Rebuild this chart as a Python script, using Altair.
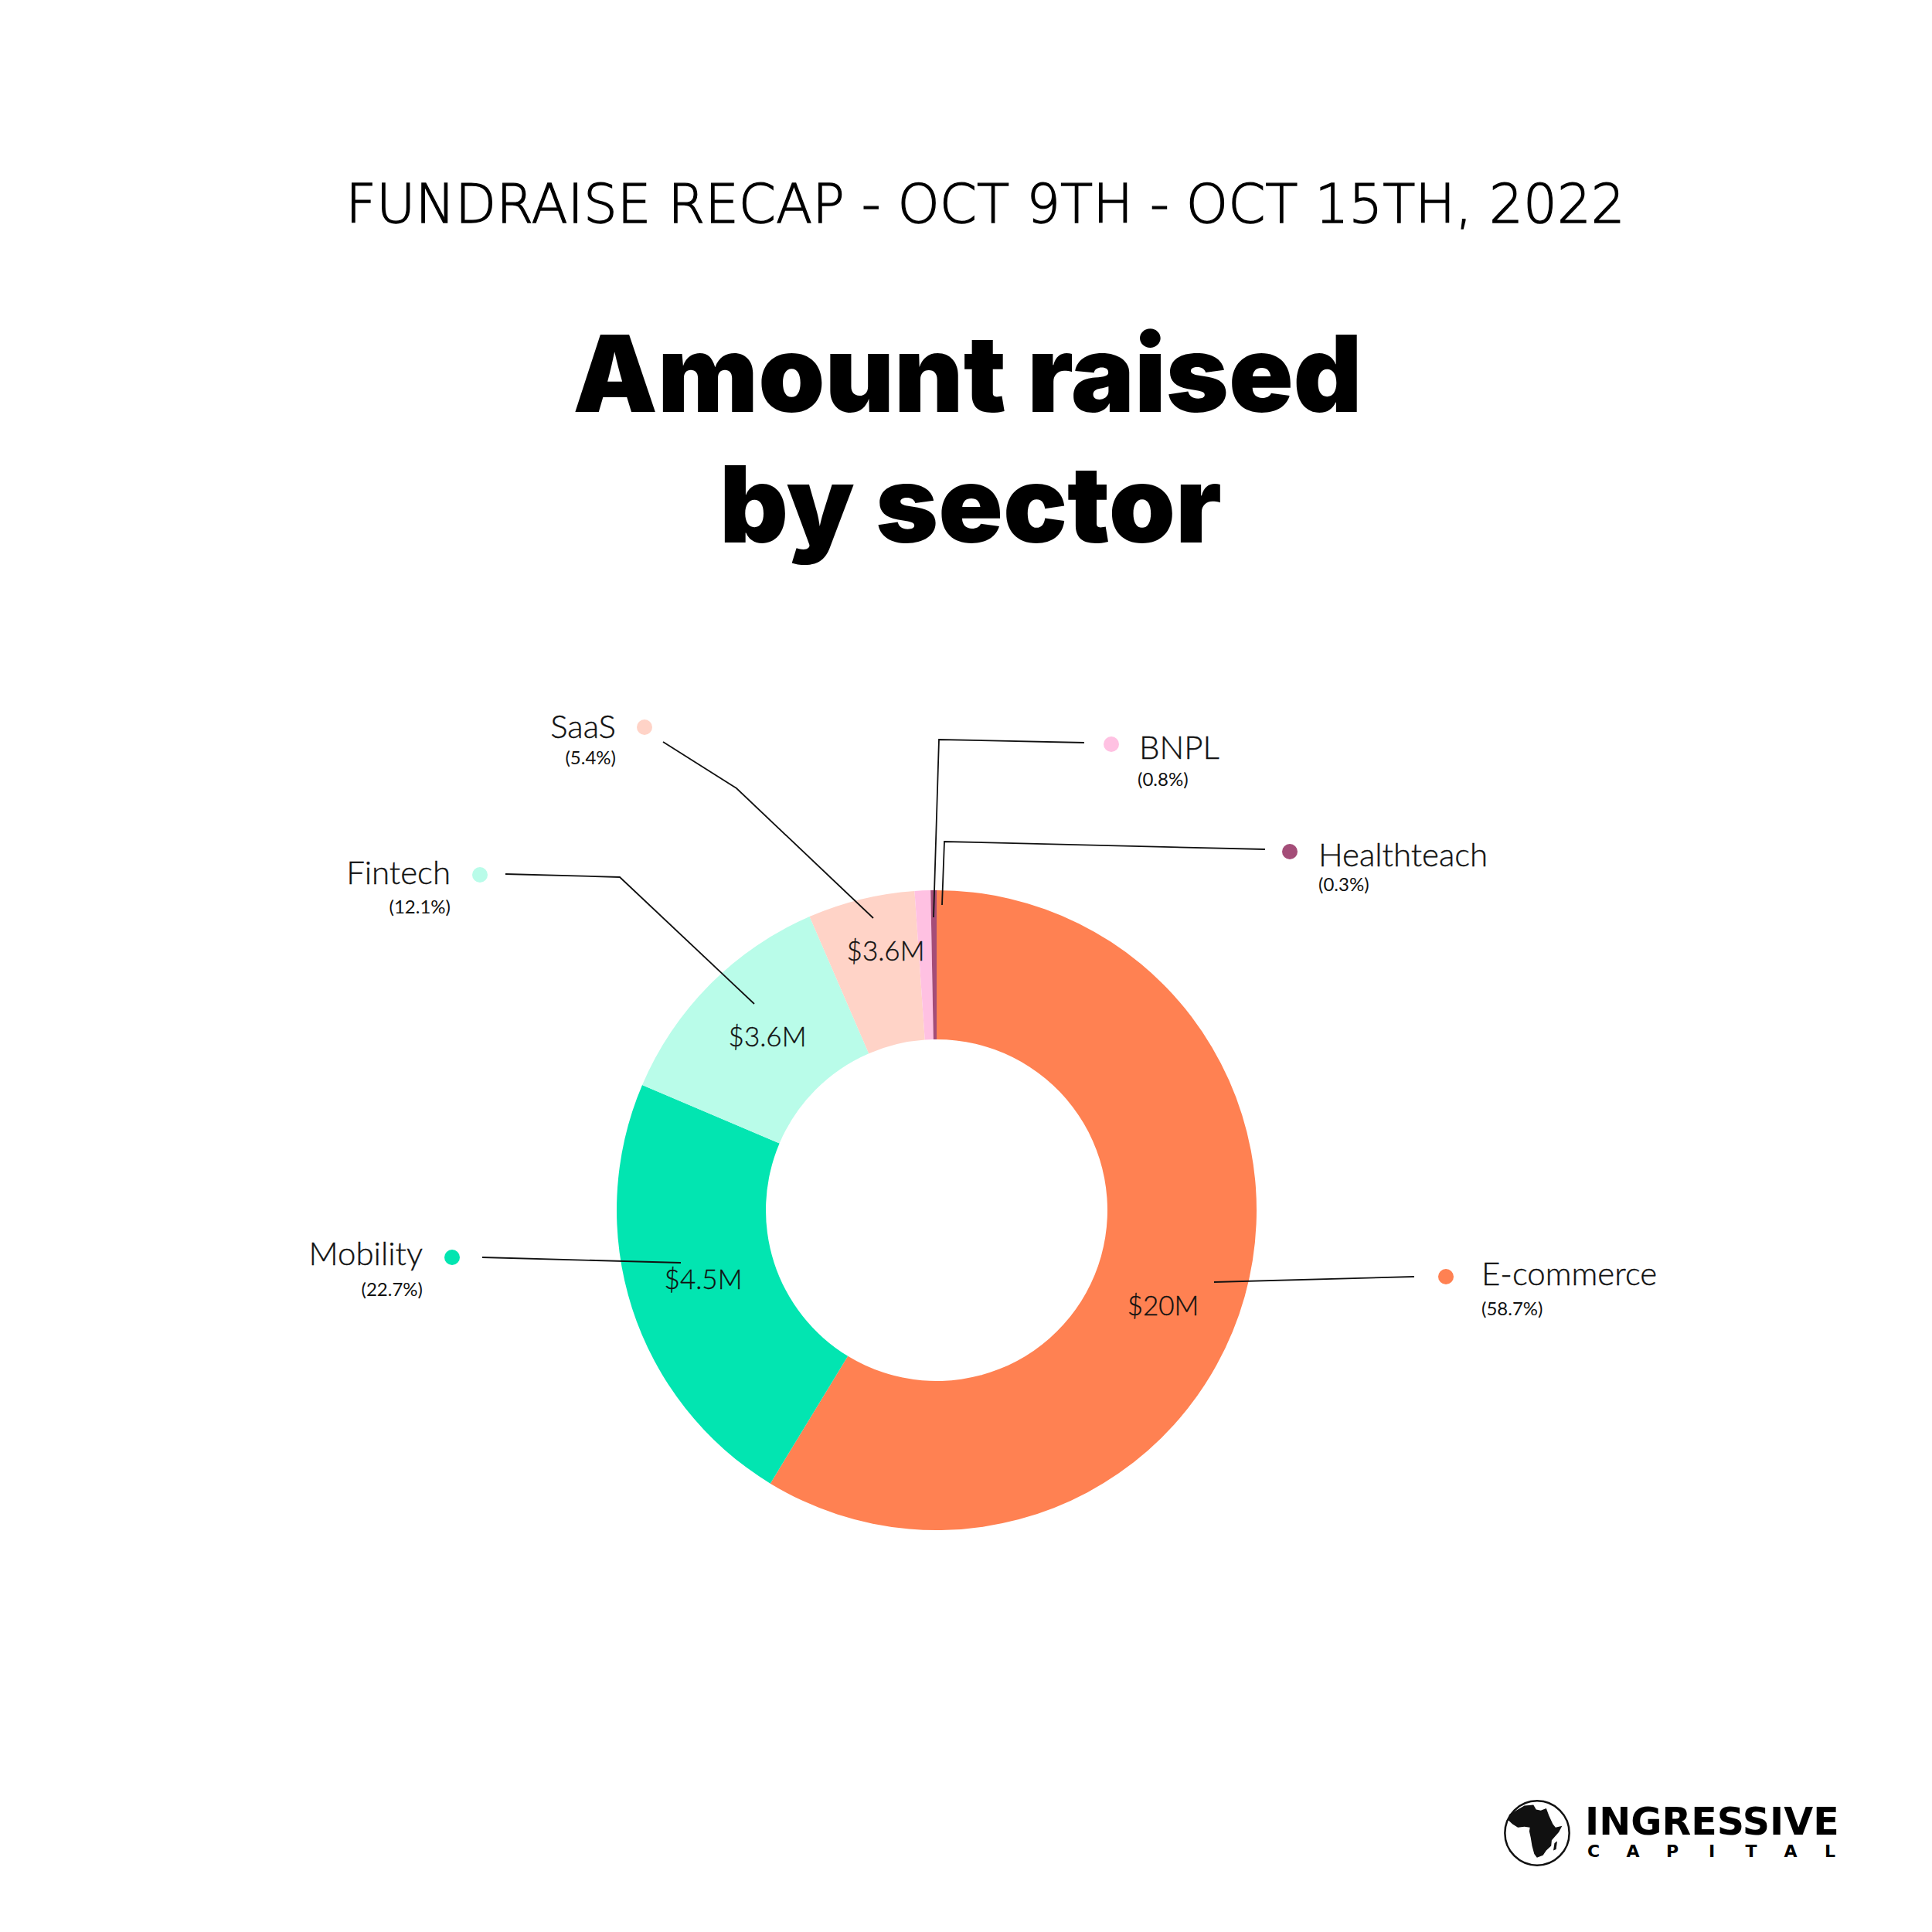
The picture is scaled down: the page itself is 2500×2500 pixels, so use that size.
import altair as alt
import pandas as pd

# ---------------- data ----------------
sectors = ["E-commerce", "Mobility", "Fintech", "SaaS", "BNPL", "Healthteach"]
shares = [58.7, 22.7, 12.1, 5.4, 0.8, 0.3]
amount_labels = ["$20M", "$4.5M", "$3.6M", "$3.6M", "", ""]
colors = ["#FF8152", "#02E5B1", "#B9FCE9", "#FFD3C7", "#FFC1E2", "#A44D78"]

subtitle = "FUNDRAISE RECAP - OCT 9TH - OCT 15TH, 2022"
title_lines = ["Amount raised", "by sector"]
logo_name = "INGRESSIVE"
logo_sub = list("CAPITAL")

# ---------------- layout (canvas pixels) ----------------
W = 2484
CX, CY, R_OUT, R_IN = 1212, 1566, 414, 221
dot_xy = [(1871, 1652), (585, 1627), (621, 1132), (834, 941), (1438, 963), (1669, 1102)]
name_xy = [(1917, 1663), (547, 1637), (583, 1144), (797, 955), (1474, 982), (1706, 1121)]
pct_xy = [(1917, 1702), (547, 1677), (583, 1182), (797, 989), (1472, 1017), (1706, 1153)]
side = ["left", "right", "right", "right", "left", "left"]
value_xy = [(1505, 1702), (910, 1668), (993, 1354), (1146, 1243), None, None]
leaders = [
    [(1830, 1652), (1571, 1659)],
    [(624, 1627), (881, 1634)],
    [(654, 1131), (802, 1135), (976, 1299)],
    [(858, 960), (953, 1020), (1130, 1188)],
    [(1403, 961), (1215, 957), (1208, 1187)],
    [(1637, 1099), (1222, 1089), (1219, 1171)],
]
AFRICA = ("M -0.62 -0.78 L -0.38 -0.92 L -0.05 -0.95 L 0.05 -0.78 L 0.22 -0.74 L 0.42 -0.82 "
          "L 0.52 -0.55 L 0.66 -0.25 L 0.76 -0.12 L 1.0 -0.18 L 0.88 0.05 L 0.62 0.35 L 0.6 0.55 "
          "L 0.42 0.72 L 0.3 0.9 L 0.08 0.98 L -0.02 0.85 L -0.1 0.55 L -0.15 0.25 L -0.2 0.02 "
          "L -0.18 -0.12 L -0.38 -0.15 L -0.62 -0.12 L -0.82 -0.25 L -1.0 -0.42 L -0.92 -0.6 Z "
          "M 0.72 0.45 L 0.82 0.38 L 0.78 0.68 L 0.68 0.72 Z")

xs = alt.Scale(domain=[8, 8 + W], nice=False, zero=False)
ys = alt.Scale(domain=[8, 8 + W], nice=False, zero=False, reverse=True)
X = lambda f: alt.X(f, type="quantitative", scale=xs, axis=None)
Y = lambda f: alt.Y(f, type="quantitative", scale=ys, axis=None)
cscale = alt.Scale(domain=sectors, range=colors)

pie_df = pd.DataFrame({"sector": sectors, "share": shares, "idx": list(range(len(sectors)))})

arcs = alt.Chart(pie_df).mark_arc(outerRadius=R_OUT, innerRadius=R_IN).encode(
    theta=alt.Theta("share:Q", stack=True),
    order=alt.Order("idx:Q"),
    color=alt.Color("sector:N", scale=cscale, legend=None),
    x=alt.XDatum(CX, type="quantitative", scale=xs, axis=None),
    y=alt.YDatum(CY, type="quantitative", scale=ys, axis=None),
)

# leader lines
rows = []
for s, pts in zip(sectors, leaders):
    for k, (px, py) in enumerate(pts):
        rows.append({"sector": s, "k": k, "x": px, "y": py})
lines = alt.Chart(pd.DataFrame(rows)).mark_line(color="#111111", strokeWidth=1.8).encode(
    x=X("x"), y=Y("y"), detail="sector:N", order="k:Q"
)

dots_df = pd.DataFrame({"sector": sectors, "x": [p[0] for p in dot_xy], "y": [p[1] for p in dot_xy]})
dots = alt.Chart(dots_df).mark_circle(size=400, opacity=1).encode(
    x=X("x"), y=Y("y"), color=alt.Color("sector:N", scale=cscale, legend=None)
)

def text_layer(df, align, size, font="Lato", weight="normal", color="#111111", stroke_w=0):
    kw = {}
    if stroke_w:
        kw = {"stroke": color, "strokeWidth": stroke_w}
    return alt.Chart(df).mark_text(align=align, baseline="alphabetic", fontSize=size, font=font,
                                   fontWeight=weight, color=color, **kw).encode(
        x=X("x"), y=Y("y"), text="t:N")

name_rows = pd.DataFrame({"t": sectors, "x": [p[0] for p in name_xy], "y": [p[1] for p in name_xy], "side": side})
pct_rows = pd.DataFrame({"t": [f"({v}%)" for v in shares], "x": [p[0] for p in pct_xy],
                         "y": [p[1] for p in pct_xy], "side": side})
val_rows = pd.DataFrame([{"t": t, "x": p[0], "y": p[1]} for t, p in zip(amount_labels, value_xy) if p])

layers = [arcs, lines, dots]
for a in ["left", "right"]:
    layers.append(text_layer(name_rows[name_rows.side == a], a, 42, weight=300, stroke_w=0.4))
    layers.append(text_layer(pct_rows[pct_rows.side == a], a, 24))
layers.append(text_layer(val_rows, "center", 35, weight=300, stroke_w=0.4))

# titles
layers.append(text_layer(pd.DataFrame({"t": [subtitle], "x": [1275], "y": [288]}), "center", 69,
                         font="DejaVu Sans", weight=300, color="#000000", stroke_w=1.3))
layers.append(text_layer(pd.DataFrame({"t": title_lines, "x": [1252, 1256], "y": [533, 702]}), "center", 138,
                         font="Inter", weight=900, color="#000000"))

# logo
layers.append(alt.Chart(pd.DataFrame({"x": [1989], "y": [2372]})).mark_point(
    shape="circle", filled=False, size=6940, strokeWidth=2.5, color="#111111", opacity=1).encode(x=X("x"), y=Y("y")))
layers.append(alt.Chart(pd.DataFrame({"x": [1986], "y": [2369]})).mark_point(
    shape=AFRICA, filled=True, size=5000, color="#111111", opacity=1).encode(x=X("x"), y=Y("y")))
layers.append(text_layer(pd.DataFrame({"t": [logo_name], "x": [2051], "y": [2374]}), "left", 49,
                         font="DejaVu Sans", weight="bold", color="#000000"))
letters = pd.DataFrame({"t": logo_sub, "i": list(range(len(logo_sub)))})
layers.append(alt.Chart(letters).transform_calculate(x="2062 + datum.i * 51", y="2403").mark_text(
    align="center", baseline="alphabetic", fontSize=22, font="DejaVu Sans", fontWeight="bold",
    color="#000000").encode(x=X("x"), y=Y("y"), text="t:N"))

chart = alt.layer(*layers).properties(
    width=W, height=W, padding=0, autosize=alt.AutoSizeParams(type="none"), background="white"
).configure_view(stroke=None)

chart.save("out.html", embed_options={"renderer": "svg", "actions": False})
